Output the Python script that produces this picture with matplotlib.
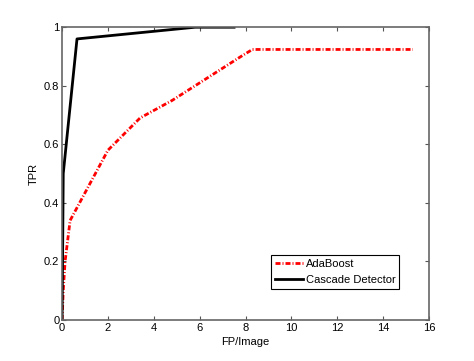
import matplotlib
matplotlib.use('Agg')
import matplotlib.pyplot as plt

# ROC data
ada_fp = [0, 0.05, 0.13, 0.35, 2.0, 3.4, 4.8, 6.0, 7.8, 8.3, 15.3]
ada_tpr = [0, 0.1, 0.2, 0.34, 0.58, 0.69, 0.75, 0.81, 0.9, 0.924, 0.924]
cas_fp = [0, 0.05, 0.65, 5.8, 7.5]
cas_tpr = [0, 0.5, 0.96, 1.0, 1.0]

x_ticks = [0, 2, 4, 6, 8, 10, 12, 14, 16]
y_ticks = [0, 0.2, 0.4, 0.6, 0.8, 1]

plt.rcParams['font.family'] = ['Liberation Sans', 'DejaVu Sans']
plt.rcParams['font.size'] = 8

fig = plt.figure(figsize=(4.74, 3.61), dpi=100)
ax = fig.add_axes([0.131, 0.1136, 0.774, 0.811])

ax.plot(ada_fp, ada_tpr, color='red', linestyle=(0, (1.8, 0.72, 0.36, 0.72)),
        linewidth=2, label='AdaBoost')
ax.plot(cas_fp, cas_tpr, color='black', linestyle='-', linewidth=2, label='Cascade Detector')

ax.set_xlim(0, 16)
ax.set_ylim(0, 1)
ax.set_xticks(x_ticks)
ax.set_yticks(y_ticks)
ax.set_yticklabels(['0', '0.2', '0.4', '0.6', '0.8', '1'])
ax.tick_params(direction='in', top=True, right=True, length=3, color='#555555', pad=2)
for s in ax.spines.values():
    s.set_color('#666666')
    s.set_linewidth(1.2)

ax.set_xlabel('FP/Image', labelpad=3)
ax.set_ylabel('TPR', labelpad=4)

leg = ax.legend(loc='lower left', bbox_to_anchor=(0.569, 0.105, 0.349, 0.128), mode='expand',
                fancybox=False, framealpha=1, edgecolor='black', borderaxespad=0,
                handlelength=2.5, handletextpad=0.3, labelspacing=0.5)
leg.get_frame().set_linewidth(0.8)

fig.savefig('out.png', dpi=100)
